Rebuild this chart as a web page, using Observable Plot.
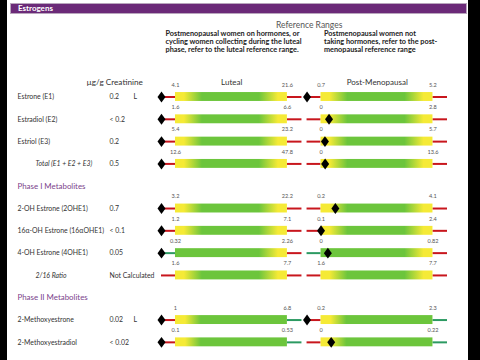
<!DOCTYPE html>
<html><head><meta charset="utf-8">
<script src="https://cdn.jsdelivr.net/npm/d3@7"></script>
<script src="https://cdn.jsdelivr.net/npm/@observablehq/plot@0.6"></script>
<style>
html,body{margin:0;padding:0;background:#fff;}
#page{position:relative;width:480px;height:360px;overflow:hidden;background:#fff;font-family:Lato,"Open Sans",sans-serif;}
#head{position:relative;height:70px;}
.hbar{position:absolute;left:10px;top:3px;width:457px;height:11px;background:#6b2a78;border:1px solid #b9a6bd;box-sizing:border-box;color:#fff;font-weight:bold;font-size:8px;line-height:9px;padding-left:7px;}
.rr{position:absolute;left:276px;top:19px;font-size:8.5px;color:#555;line-height:12px;white-space:nowrap;}
.p{position:absolute;top:30px;font-size:7.3px;font-weight:bold;line-height:8px;color:#222;white-space:nowrap;}
.edge{position:absolute;top:0;height:360px;background:#000;z-index:5;}
#chart svg{display:block;}
</style></head>
<body>
<div id="page">
  <div id="head">
    <div class="hbar">Estrogens</div>
    <div class="rr">Reference Ranges</div>
    <div class="p" style="left:165.5px">Postmenopausal women on hormones, or<br>cycling women collecting during the luteal<br>phase, refer to the luteal reference range.</div>
    <div class="p" style="left:324px">Postmenopausal women not<br>taking hormones, refer to the post-<br>menopausal reference range</div>
  </div>
  <div id="chart"></div>
  <div class="edge" style="left:0;width:7px"></div>
  <div class="edge" style="left:468px;width:12px"></div>
</div>
<script>
// ---- data ----
const panels = ["Luteal", "Post-Menopausal"];
const unitsHeader = "µg/g Creatinine";
const rows = ["Estrone (E1)", "Estradiol (E2)", "Estriol (E3)", "Total (E1 + E2 + E3)",
  "Phase I Metabolites", "2-OH Estrone (2OHE1)", "16α-OH Estrone (16αOHE1)", "4-OH Estrone (4OHE1)",
  "2/16 Ratio", "Phase II Metabolites", "2-Methoxyestrone", "2-Methoxyestradiol"];
const kind = ["item", "item", "item", "sub", "section", "item", "item", "item", "sub", "section", "item", "item"];
const resultText = ["0.2", "< 0.2", "0.2", "0.5", "", "0.7", "< 0.1", "0.05", "Not Calculated", "", "0.02", "< 0.02"];
const resultValue = [0.2, 0.2, 0.2, 0.5, null, 0.7, 0.1, 0.05, null, null, 0.02, 0.02];
const flags = ["L", "", "", "", "", "", "", "", "", "", "L", ""];
const lutealLow = [4.1, 1.6, 5.4, 12.6, null, 3.2, 1.2, 0.32, 1.6, null, 1, 0.1];
const lutealHigh = [21.6, 6.6, 23.2, 47.8, null, 22.2, 7.1, 2.26, 7.7, null, 6.8, 0.53];
const postLow = [0.7, 0, 0, 0, null, 0.2, 0.1, 0, 1.6, null, 0.2, 0];
const postHigh = [5.2, 2.8, 5.7, 13.6, null, 4.1, 2.4, 0.82, 7.7, null, 2.3, 0.22];
// which side of the range is of concern
const concern = ["both", "both", "both", "both", null, "both", "both", "high", "both", null, "low", "low"];

// ---- build tables ----
const UMIN = -0.125, UMAX = 1.13; // normalized whisker ends (range low = 0, high = 1)
const ranges = [];
rows.forEach((r, i) => {
  if (lutealLow[i] == null) return;
  [[panels[0], lutealLow[i], lutealHigh[i]], [panels[1], postLow[i], postHigh[i]]].forEach(([p, lo, hi]) => {
    const v = resultValue[i];
    let u = null;
    if (v != null) u = v < lo ? UMIN : v > hi ? UMAX : (v - lo) / (hi - lo);
    ranges.push({row: r, panel: p, lo, hi, u, concern: concern[i], wl: UMIN, bl: 0, bh: 1, wh: UMAX});
  });
});
const table = rows.map((r, i) => ({row: r, panel: panels[0], kind: kind[i], result: resultText[i], flag: flags[i]}));

const RED = "#c8161d", GRN = "#2c9a62", YEL = "#f5ea36", LGRN = "#6cc53c";
const diamond = {draw(ctx, size) {
  const r = Math.sqrt(size / Math.PI);
  ctx.moveTo(0, -r * 1.3); ctx.lineTo(r * 0.95, 0); ctx.lineTo(0, r * 1.3); ctx.lineTo(-r * 0.95, 0); ctx.closePath();
}};

const marks = [
  Plot.ruleY(ranges, {fx: "panel", y: "row", x1: "wl", x2: "bl", stroke: d => d.concern === "high" ? GRN : RED, strokeWidth: 2}),
  Plot.ruleY(ranges, {fx: "panel", y: "row", x1: "bh", x2: "wh", stroke: d => d.concern === "low" ? GRN : RED, strokeWidth: 2}),
];
for (const t of ["both", "high", "low"]) {
  marks.push(Plot.barX(ranges.filter(d => d.concern === t), {fx: "panel", y: "row", x1: "bl", x2: "bh", fill: `url(#grad-${t})`}));
}
marks.push(
  Plot.text(ranges, {fx: "panel", y: "row", x: "bl", text: d => String(d.lo), dy: -12, fontSize: 5.6, fill: "#555"}),
  Plot.text(ranges, {fx: "panel", y: "row", x: "bh", text: d => String(d.hi), dy: -12, fontSize: 5.6, fill: "#555"}),
  Plot.dot(ranges.filter(d => d.u != null), {fx: "panel", y: "row", x: "u", symbol: diamond, r: 4.2, fill: "#000", stroke: "none"}),
  Plot.text(table.filter(d => d.kind === "item"), {fx: "panel", y: "row", text: "row", frameAnchor: "left", textAnchor: "start", dx: -144, fill: "#333", fontSize: 6.9}),
  Plot.text(table.filter(d => d.kind === "sub"), {fx: "panel", y: "row", text: "row", frameAnchor: "left", textAnchor: "start", dx: -126, fill: "#333", fontSize: 6.9, fontStyle: "italic"}),
  Plot.text(table.filter(d => d.kind === "section"), {fx: "panel", y: "row", text: "row", frameAnchor: "left", textAnchor: "start", dx: -144, fill: "#7b3f8b", fontSize: 7.9}),
  Plot.text(table.filter(d => d.result), {fx: "panel", y: "row", text: "result", frameAnchor: "left", textAnchor: "start", dx: -52, fill: "#333", fontSize: 6.9}),
  Plot.text(table.filter(d => d.flag), {fx: "panel", y: "row", text: "flag", frameAnchor: "left", textAnchor: "start", dx: -28, fill: "#333", fontSize: 6.9}),
  Plot.text([unitsHeader], {fx: () => panels[0], text: d => d, frameAnchor: "top-left", textAnchor: "start", lineAnchor: "middle", dx: -75, dy: 3, fill: "#333", fontSize: 8.2}),
  Plot.text(panels, {fx: d => d, text: d => d, frameAnchor: "top", lineAnchor: "middle", dy: 3, fill: "#333", fontSize: 8})
);

const svg = Plot.plot({
  width: 480, height: 290,
  marginLeft: 161, marginRight: 33, marginTop: 8.66, marginBottom: 0.3,
  x: {domain: [UMIN, UMAX], axis: null},
  y: {type: "band", domain: rows, paddingInner: 0.6, paddingOuter: 0.6, round: false, axis: null},
  fx: {domain: panels, paddingInner: 0.035, paddingOuter: 0, round: false, axis: null},
  color: {type: "identity"},
  style: {fontFamily: "Lato, 'Open Sans', sans-serif", fontSize: "7px", background: "white", overflow: "visible"},
  marks
});

// gradients for the range bars
const defs = d3.select(svg).insert("defs", ":first-child");
const grads = {
  both: [[0, YEL], [0.08, YEL], [0.24, LGRN], [0.75, LGRN], [0.92, YEL], [1, YEL]],
  high: [[0, LGRN], [0.75, LGRN], [0.92, YEL], [1, YEL]],
  low: [[0, YEL], [0.09, YEL], [0.23, LGRN], [1, LGRN]]
};
for (const [k, stops] of Object.entries(grads)) {
  const g = defs.append("linearGradient").attr("id", `grad-${k}`).attr("x1", "0").attr("x2", "1").attr("y1", "0").attr("y2", "0");
  for (const [o, c] of stops) g.append("stop").attr("offset", o).attr("stop-color", c);
}
document.getElementById("chart").appendChild(svg);
</script>
</body></html>
